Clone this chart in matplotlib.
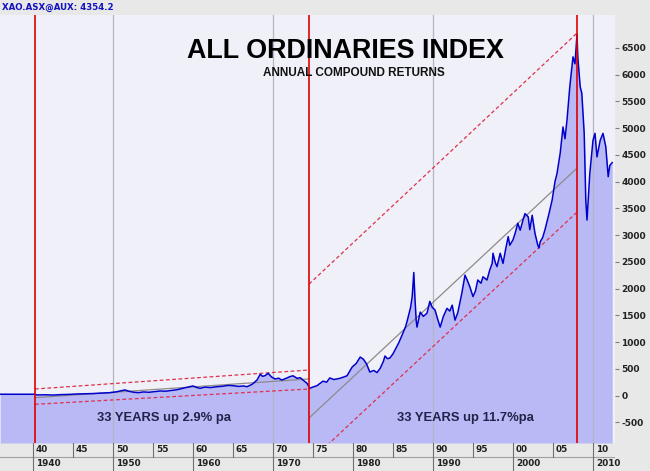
import numpy as np
import matplotlib
matplotlib.use("Agg")
import matplotlib.pyplot as plt

# index readings (year, value) taken off the chart
years = [1935.9, 1940.25, 1940.5, 1941.5, 1942.5, 1943.5, 1944.5, 1945.5, 1946.5, 1947.5,
         1948.5, 1949.6, 1950.4, 1951.0, 1951.5, 1952.0, 1952.6, 1953.2, 1953.8, 1954.5,
         1955.2, 1955.9, 1956.6, 1957.3, 1958.0, 1958.75, 1959.4, 1960.0, 1960.5, 1960.9,
         1961.5, 1962.2, 1963.0, 1963.7, 1964.4, 1965.0, 1965.7, 1966.3, 1966.75, 1967.4,
         1968.0, 1968.4, 1968.7, 1969.0, 1969.4, 1969.8, 1970.25, 1970.7, 1971.1, 1971.6,
         1972.1, 1972.5, 1973.0, 1973.4, 1973.75, 1974.25, 1974.6, 1975.0, 1975.5, 1976.25,
         1976.7, 1977.1, 1977.6, 1978.3, 1978.8, 1979.25, 1979.9, 1980.4, 1980.9, 1981.3,
         1981.7, 1982.1, 1982.6, 1983.0, 1983.4, 1983.8, 1984.0, 1984.3, 1984.6, 1985.0,
         1985.25, 1985.7, 1986.25, 1986.6, 1986.9, 1987.2, 1987.4, 1987.6, 1987.75, 1987.9,
         1988.0, 1988.4, 1988.8, 1989.25, 1989.6, 1989.9, 1990.25, 1990.6, 1990.9, 1991.3,
         1991.75, 1992.1, 1992.4, 1992.75, 1993.1, 1993.6, 1994.0, 1994.3, 1994.6, 1995.0,
         1995.3, 1995.6, 1996.0, 1996.25, 1996.75, 1997.1, 1997.4, 1997.5, 1997.8, 1998.0,
         1998.4, 1998.75, 1999.1, 1999.4, 1999.6, 2000.0, 2000.3, 2000.6, 2000.9, 2001.25,
         2001.5, 2001.9, 2002.1, 2002.4, 2002.75, 2003.1, 2003.25, 2003.4, 2003.7, 2004.0,
         2004.5, 2004.9, 2005.25, 2005.5, 2005.9, 2006.25, 2006.5, 2006.75, 2007.1, 2007.5,
         2007.75, 2008.0, 2008.1, 2008.4, 2008.6, 2008.9, 2009.1, 2009.25, 2009.6, 2010.0,
         2010.25, 2010.5, 2010.9, 2011.25, 2011.6, 2011.9, 2012.1, 2012.4]
values = [25, 25, 12, 15, 10, 18, 22, 30, 34, 38,
          45, 54, 70, 90, 105, 80, 62, 55, 68, 62,
          75, 86, 82, 95, 110, 136, 160, 180, 150, 136,
          158, 150, 166, 175, 190, 185, 172, 180, 166, 211,
          290, 398, 360, 372, 416, 350, 310, 325, 290, 320,
          353, 370, 323, 335, 290, 230, 136, 160, 185, 270,
          250, 330, 300, 320, 345, 370, 535, 600, 720, 680,
          590, 440, 470, 430, 510, 640, 740, 690, 700, 780,
          850, 980, 1170, 1300, 1470, 1650, 1850, 2300, 1800, 1400,
          1280, 1560, 1480, 1540, 1760, 1650, 1600, 1420, 1280, 1480,
          1630, 1580, 1690, 1410, 1550, 1910, 2250, 2150, 2035, 1850,
          1950, 2160, 2100, 2220, 2160, 2350, 2470, 2660, 2480, 2410,
          2660, 2470, 2750, 2970, 2810, 2910, 3050, 3220, 3090, 3280,
          3400, 3340, 3100, 3370, 3030, 2810, 2760, 2875, 2950, 3100,
          3400, 3660, 4000, 4150, 4530, 5020, 4800, 5150, 5770, 6330,
          6200, 6750, 6330, 5770, 5650, 4900, 3650, 3280, 4150, 4770,
          4900, 4460, 4770, 4900, 4650, 4090, 4300, 4354]

# period markers and compound-return channels
period_years = [1940.25, 1974.5, 2008.0]
grid_years = [1950, 1970, 1990, 2010]
left_upper = ([1940.25, 1974.5], [123, 478])
left_mid = ([1940.25, 1974.5], [-39, 311])
left_lower = ([1940.25, 1974.5], [-163, 123])
right_upper = ([1974.5, 2008.0], [2083, 6774])
right_mid = ([1974.5, 2008.0], [-420, 4251])
right_lower = ([1974.5, 2008.0], [-1244, 3427])

yticks = list(range(-500, 7000, 500))
minor_labels = ["40", "45", "50", "55", "60", "65", "70", "75", "80", "85", "90", "95", "00", "05", "10"]
minor_years = list(range(1940, 2011, 5))
major_years = list(range(1940, 2011, 10))

xmin, xmax = 1935.875, 2012.75
ymin, ymax = -886, 7112

fig = plt.figure(figsize=(6.5, 4.71), dpi=100, facecolor="#e8e8e8")
W, H = 650.0, 471.0

ax = fig.add_axes([0, 28 / H, 615 / W, 428 / H])
ax.set_facecolor("#f0f0f8")
ax.fill_between(years, values, ymin, color="#b9b9f5", lw=0, zorder=1)
ax.plot(years, values, color="#0000cc", lw=1.1, zorder=4)

for g in grid_years:
    ax.axvline(g, color="#b4b4c6", lw=0.9, zorder=2)

red_dash = dict(color="#e0304e", lw=0.9, ls=(0, (3, 2)), zorder=3)
gray_line = dict(color="#8e8a8a", lw=0.9, zorder=3)
ax.plot(*left_upper, **red_dash)
ax.plot(*left_lower, **red_dash)
ax.plot(*left_mid, **gray_line)
ax.plot(*right_upper, **red_dash)
ax.plot(*right_lower, **red_dash)
ax.plot(*right_mid, **gray_line)

for p in period_years:
    ax.axvline(p, color="#e00000", lw=1.2, zorder=5)

ax.set_xlim(xmin, xmax)
ax.set_ylim(ymin, ymax)
ax.set_xticks([])
ax.yaxis.tick_right()
ax.set_yticks(yticks)
ax.set_yticklabels([str(t) for t in yticks])
ax.tick_params(axis="y", direction="out", length=3, width=0.8, pad=1.5,
               color="#808080", labelsize=6.5, labelcolor="#222222")
for lab in ax.get_yticklabels():
    lab.set_fontweight("bold")
for s in ax.spines.values():
    s.set_visible(False)

ax.text(1956.4, -418, "33 YEARS up 2.9% pa", family="Liberation Sans", fontweight="bold",
        fontsize=9.4, color="#22224a", ha="center", va="center", zorder=6)
ax.text(1994.1, -418, "33 YEARS up 11.7%pa", family="Liberation Sans", fontweight="bold",
        fontsize=9.4, color="#22224a", ha="center", va="center", zorder=6)

# date band underneath
bx = fig.add_axes([0, 0, 615 / W, 28 / H])
bx.set_facecolor("#e8e8e8")
bx.set_xlim(xmin, xmax)
bx.set_ylim(0, 2)
bx.axis("off")
bx.axhline(1, color="#a0a0a0", lw=0.8)
for yr, lab in zip(minor_years, minor_labels):
    bx.plot([yr, yr], [1, 2], color="#707070", lw=0.8)
    bx.text(yr + 0.35, 1.5, lab, fontsize=6.4, fontweight="bold", color="#202020",
            ha="left", va="center")
for yr in major_years:
    bx.plot([yr, yr], [0, 1], color="#707070", lw=0.8)
    bx.text(yr + 0.35, 0.5, str(yr), fontsize=6.4, fontweight="bold", color="#202020",
            ha="left", va="center")

fig.text(2 / W, 1 - 7.5 / H, "XAO.ASX@AUX: 4354.2", fontsize=6.2, fontweight="bold",
         color="#1010c0", ha="left", va="center")
fig.text(345 / W, 1 - 51.5 / H, "ALL ORDINARIES INDEX", family="Liberation Sans",
         fontweight="bold", fontsize=19.4, color="black", ha="center", va="center")
fig.text(353.5 / W, 1 - 72.5 / H, "ANNUAL COMPOUND RETURNS", family="Liberation Sans",
         fontweight="bold", fontsize=8.5, color="#111111", ha="center", va="center")

fig.savefig("out.png", dpi=100, facecolor=fig.get_facecolor())
